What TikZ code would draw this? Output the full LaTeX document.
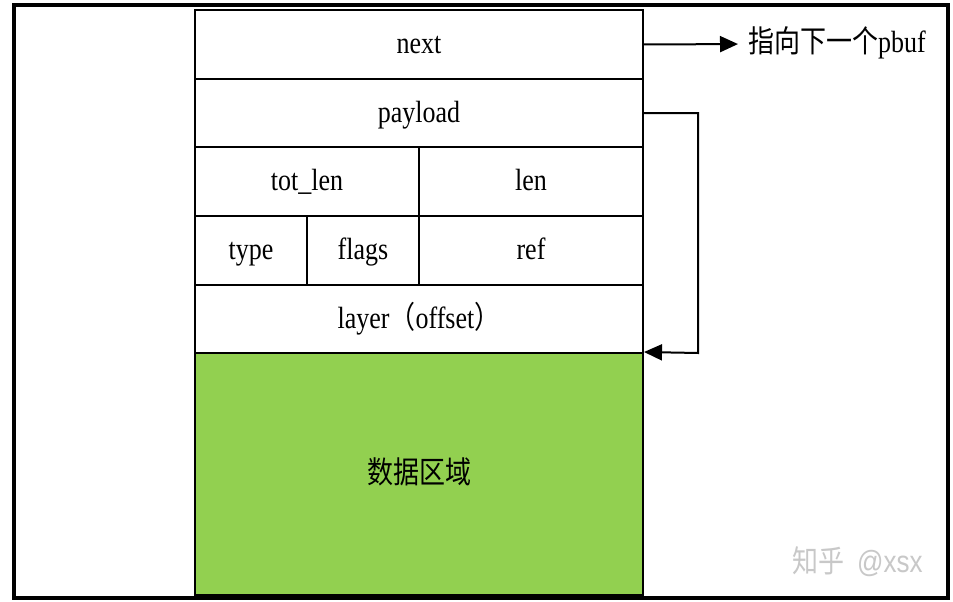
\documentclass[tikz,border=0pt]{standalone}
\usepackage{fontspec}
\usepackage{graphicx}
\setmainfont{Liberation Serif}
\newfontfamily\cjk{Noto Sans CJK SC}
\usetikzlibrary{arrows.meta}
\definecolor{datagreen}{RGB}{146,208,80}
\definecolor{wmgray}{RGB}{200,200,200}
\newcommand\vst[1]{\scalebox{1}[1.18]{#1}}
\begin{document}
\begin{tikzpicture}[x=1pt,y=-1pt,
  cell/.style={draw=black,line width=2pt,rectangle,inner sep=0pt,
    text height=18pt,text depth=0pt,
    font=\fontsize{26}{30}\selectfont},
  arr/.style={line width=2pt,-{Triangle[length=18pt,width=16pt]}},
  lbl/.style={font=\fontsize{26}{30}\selectfont,inner sep=0pt,
    text height=18pt,text depth=0pt}]
\useasboundingbox (0,0) rectangle (953,602);
\fill[white] (0,0) rectangle (953,602);
\draw[line width=3.5pt] (14,5) rectangle (948,598);
% cells
\node[cell,minimum width=448pt,minimum height=69pt] (next) at (419,44.5) {\vst{next}};
\node[cell,minimum width=448pt,minimum height=68pt] (payload) at (419,113) {\vst{payload}};
\node[cell,minimum width=224pt,minimum height=69pt] (totlen) at (307,181.5) {\vst{tot\_len}};
\node[cell,minimum width=224pt,minimum height=69pt] (len) at (531,181.5) {\vst{len}};
\node[cell,minimum width=112pt,minimum height=69pt] (type) at (251,250.5) {\vst{type}};
\node[cell,minimum width=112pt,minimum height=69pt] (flags) at (363,250.5) {\vst{flags}};
\node[cell,minimum width=224pt,minimum height=69pt] (ref) at (531,250.5) {\vst{ref}};
\node[cell,minimum width=448pt,minimum height=68pt] (layer) at (419,319) {\vst{layer{\cjk （}offset{\cjk ）}}};
\node[cell,fill=datagreen,minimum width=448pt,minimum height=242pt] (data) at (419,474) {\vst{\cjk 数据区域}};
% next pointer
\node[lbl,anchor=west] (nextlbl) at (748,44) {\vst{{\cjk 指向下一个}pbuf}};
\draw[arr,shorten >=10pt] (next.east) -- (nextlbl.west);
% payload pointer
\coordinate (c1) at (698,113);
\coordinate (c2) at (698,353);
\draw[arr] (payload.east) -- (c1) -- (c2) -- (data.north east);
% watermark
\node[lbl,text=wmgray,anchor=west] (wm) at (792,563) {\vst{{\cjk 知乎}\ \ {\fontspec{Liberation Sans}@xsx}}};
\end{tikzpicture}
\end{document}
